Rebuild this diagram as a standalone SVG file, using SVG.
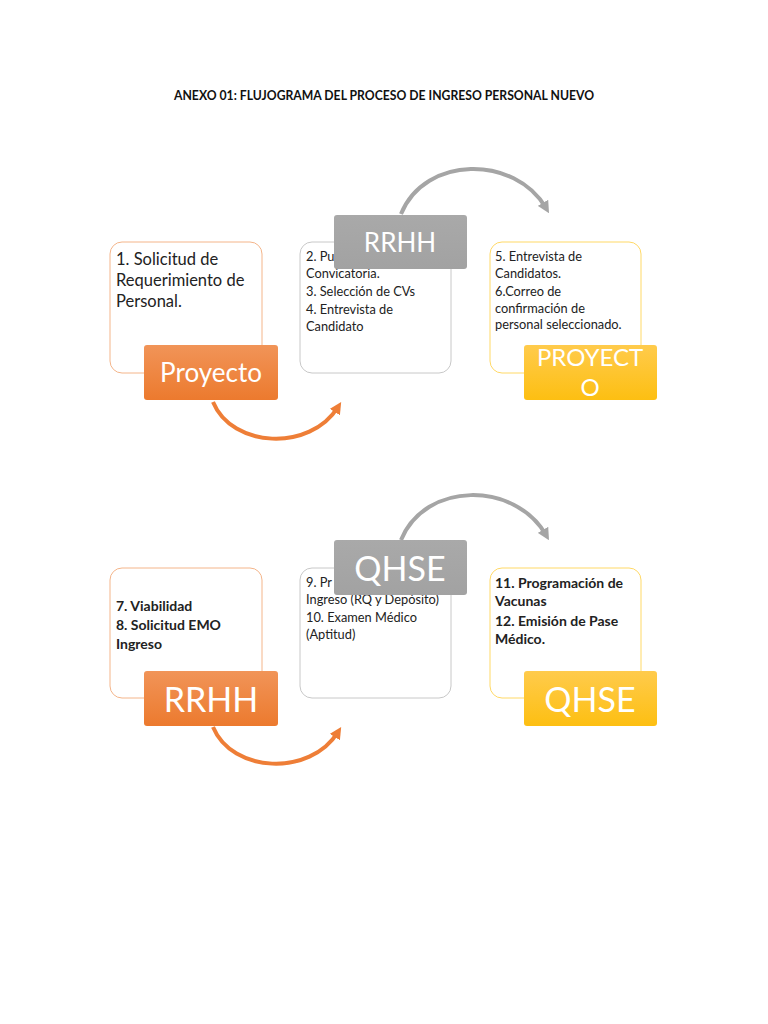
<svg xmlns="http://www.w3.org/2000/svg" width="768" height="1024" viewBox="0 0 768 1024">
<defs>
<linearGradient id="gOr" x1="0" y1="0" x2="0" y2="1"><stop offset="0" stop-color="#F19458"/><stop offset="1" stop-color="#EC7A2E"/></linearGradient>
<linearGradient id="gGo" x1="0" y1="0" x2="0" y2="1"><stop offset="0" stop-color="#FFCB4C"/><stop offset="1" stop-color="#FDBF12"/></linearGradient>
<linearGradient id="gGr" x1="0" y1="0" x2="0" y2="1"><stop offset="0" stop-color="#A9A9A9"/><stop offset="1" stop-color="#A2A2A2"/></linearGradient>
<marker id="mOr" viewBox="0 0 10 10" refX="5" refY="5" markerWidth="3" markerHeight="3" orient="auto"><path d="M0,0 L10,5 L0,10 z" fill="#EE7E37"/></marker>
<marker id="mGr" viewBox="0 0 10 10" refX="5" refY="5" markerWidth="3" markerHeight="3" orient="auto"><path d="M0,0 L10,5 L0,10 z" fill="#A5A5A5"/></marker>
<style>
.box{fill:#fff;stroke-width:1}
.bo{stroke:#F4B58A}.bg{stroke:#C8C8C8}.by{stroke:#FFD966}
.t{font-family:Lato,"Liberation Sans",sans-serif;fill:#222}
.s{font-size:12.8px}.m{font-size:16.5px}.b{font-size:14px;font-weight:bold}
.lab{font-family:Lato,"Liberation Sans",sans-serif;fill:#fff;text-anchor:middle}
.ao{fill:none;stroke:#EE7E37;stroke-width:4;marker-end:url(#mOr)}
.ag{fill:none;stroke:#A5A5A5;stroke-width:4;marker-end:url(#mGr)}
</style>
</defs>
<rect width="768" height="1024" fill="#fff"/>
<text x="384" y="100" text-anchor="middle" font-family="Lato,'Liberation Sans',sans-serif" font-weight="bold" font-size="13" textLength="420" lengthAdjust="spacingAndGlyphs" fill="#111">ANEXO 01: FLUJOGRAMA DEL PROCESO DE INGRESO PERSONAL NUEVO</text>

<g id="connectors">
<path class="ao" d="M213,402 C232,448 310,452 338,407"/>
<path class="ag" d="M401,214 C425,155 515,155 546,208"/>
<path class="ao" d="M213,727 C232,773 310,777 338,732"/>
<path class="ag" d="M401,540 C425,481 515,481 546,535"/>
</g>

<g id="n1">
<rect class="box bo" x="110" y="242" width="152" height="131" rx="12"/>
<text class="t m" x="116" y="265">1. Solicitud de</text>
<text class="t m" x="116" y="286">Requerimiento de</text>
<text class="t m" x="116" y="307">Personal.</text>
</g>
<g id="n2">
<rect class="box bg" x="300" y="242" width="151" height="131" rx="12"/>
<text class="t s" x="306" y="261">2. Pu</text>
<text class="t s" x="306" y="278">Convicatoria.</text>
<text class="t s" x="306" y="296">3. Selección de CVs</text>
<text class="t s" x="306" y="314">4. Entrevista de</text>
<text class="t s" x="306" y="331">Candidato</text>
</g>
<g id="n3">
<rect class="box by" x="490" y="242" width="151" height="131" rx="12"/>
<text class="t s" x="495" y="261">5. Entrevista de</text>
<text class="t s" x="495" y="278">Candidatos.</text>
<text class="t s" x="495" y="296">6.Correo de</text>
<text class="t s" x="495" y="313">confirmación de</text>
<text class="t s" x="495" y="329">personal seleccionado.</text>
</g>
<g id="l1">
<rect x="144" y="345" width="134" height="55" rx="3" fill="url(#gOr)"/>
<text class="lab" x="211" y="382" font-size="26">Proyecto</text>
</g>
<g id="l2">
<rect x="334" y="215" width="133" height="54" rx="3" fill="url(#gGr)"/>
<text class="lab" x="400" y="252" font-size="26">RRHH</text>
</g>
<g id="l3">
<rect x="524" y="345" width="133" height="55" rx="3" fill="url(#gGo)"/>
<text class="lab" x="590" y="366" font-size="24">PROYECT</text>
<text class="lab" x="590" y="396" font-size="24">O</text>
</g>

<g id="n4">
<rect class="box bo" x="110" y="568" width="152" height="130" rx="12"/>
<text class="t b" x="116" y="611">7. Viabilidad</text>
<text class="t b" x="116" y="630">8. Solicitud EMO</text>
<text class="t b" x="116" y="649">Ingreso</text>
</g>
<g id="n5">
<rect class="box bg" x="300" y="568" width="151" height="130" rx="12"/>
<text class="t s" x="306" y="587">9. Pr</text>
<text class="t s" x="306" y="604">Ingreso (RQ y Depósito)</text>
<text class="t s" x="306" y="622">10. Examen Médico</text>
<text class="t s" x="306" y="639">(Aptitud)</text>
</g>
<g id="n6">
<rect class="box by" x="490" y="568" width="151" height="130" rx="12"/>
<text class="t b" x="495" y="588">11. Programación de</text>
<text class="t b" x="495" y="606">Vacunas</text>
<text class="t b" x="495" y="626">12. Emisión de Pase</text>
<text class="t b" x="495" y="644">Médico.</text>
</g>
<g id="l4">
<rect x="144" y="671" width="134" height="55" rx="3" fill="url(#gOr)"/>
<text class="lab" x="211" y="712" font-size="34">RRHH</text>
</g>
<g id="l5">
<rect x="334" y="540" width="133" height="55" rx="3" fill="url(#gGr)"/>
<text class="lab" x="400" y="581" font-size="34">QHSE</text>
</g>
<g id="l6">
<rect x="524" y="671" width="133" height="55" rx="3" fill="url(#gGo)"/>
<text class="lab" x="590" y="712" font-size="34">QHSE</text>
</g>
</svg>
